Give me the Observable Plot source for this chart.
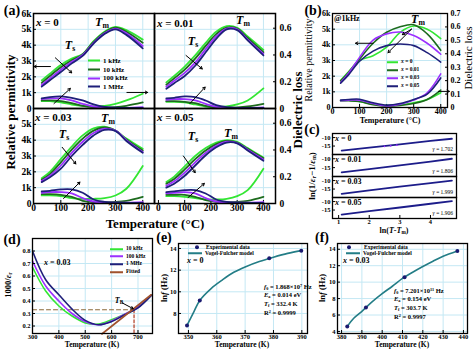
<!DOCTYPE html>
<html><head><meta charset="utf-8">
<script src="https://cdn.jsdelivr.net/npm/d3@7"></script>
<script src="https://cdn.jsdelivr.net/npm/@observablehq/plot@0.6"></script>
<style>
html,body{margin:0;padding:0;background:#fff;}
#root{position:relative;width:474px;height:349px;overflow:hidden;font-family:"Liberation Serif",serif;font-weight:bold;color:#000;}
.t{position:absolute;white-space:nowrap;line-height:1;}
.c{transform:translate(-50%,-50%);}
.l{transform:translate(0,-50%);}
.rot{transform:translate(-50%,-50%) rotate(-90deg);}
sub{font-size:65%;vertical-align:-0.25em;}
sup{font-size:65%;vertical-align:0.45em;}
.sw{display:inline-block;vertical-align:middle;margin-right:3px;}
</style></head><body><div id="root"></div>
<script>
// ---------- DATA ----------
const freqNames = ["1 kHz", "10 kHz", "100 kHz", "1 MHz"];
const freqColors = ["#33e633", "#1d6b1d", "#9b30ff", "#1f1f7a"];
const compNames = ["x = 0", "x = 0.01", "x = 0.03", "x = 0.05"];
const compColors = ["#33e633", "#1d6b1d", "#9b30ff", "#1f1f7a"];

// panel (a): temperature samples (°C), permittivity (k), dielectric loss
const tempA = [30, 60, 100, 140, 180, 220, 260, 300, 340, 400];
const permA_x0 = [
  [1.77, 2.2, 2.75, 3.15, 3.45, 4.25, 4.85, 5.15, 4.95, 4.35],
  [1.62, 2.05, 2.6, 3.05, 3.42, 4.2, 4.8, 5.1, 4.85, 4.15],
  [1.48, 1.9, 2.45, 2.95, 3.38, 4.15, 4.75, 5.05, 4.75, 3.95],
  [1.38, 1.78, 2.3, 2.85, 3.32, 4.1, 4.7, 5.0, 4.65, 3.8]];
const lossA_x0 = [
  [0.055, 0.055, 0.045, 0.03, 0.02, 0.015, 0.02, 0.035, 0.06, 0.11],
  [0.06, 0.06, 0.055, 0.04, 0.02, 0.01, 0.008, 0.01, 0.02, 0.045],
  [0.07, 0.075, 0.075, 0.06, 0.035, 0.015, 0.008, 0.005, 0.005, 0.01],
  [0.075, 0.085, 0.09, 0.08, 0.06, 0.03, 0.012, 0.006, 0.005, 0.005]];
const permA_x001 = [
  [1.65, 2.05, 2.65, 3.35, 4.15, 4.85, 5.2, 5.1, 4.55, 3.7],
  [1.5, 1.9, 2.45, 3.15, 3.95, 4.7, 5.1, 5.05, 4.45, 3.55],
  [1.38, 1.75, 2.25, 2.9, 3.75, 4.55, 5.05, 5.0, 4.35, 3.45],
  [1.25, 1.6, 2.05, 2.7, 3.55, 4.4, 5.0, 4.95, 4.3, 3.35]];
const lossA_x001 = [
  [0.05, 0.05, 0.045, 0.03, 0.015, 0.01, 0.015, 0.03, 0.06, 0.15],
  [0.055, 0.055, 0.05, 0.04, 0.02, 0.008, 0.005, 0.008, 0.015, 0.035],
  [0.065, 0.07, 0.07, 0.06, 0.035, 0.012, 0.005, 0.004, 0.004, 0.008],
  [0.075, 0.08, 0.09, 0.085, 0.06, 0.025, 0.01, 0.005, 0.004, 0.004]];
const permA_x003 = [
  [1.6, 2.0, 2.8, 3.6, 4.3, 4.75, 4.85, 4.6, 4.1, 3.45],
  [1.5, 1.85, 2.6, 3.4, 4.1, 4.6, 4.8, 4.6, 4.05, 3.35],
  [1.42, 1.75, 2.4, 3.2, 3.9, 4.45, 4.72, 4.6, 4.0, 3.25],
  [1.35, 1.65, 2.2, 3.0, 3.7, 4.3, 4.65, 4.58, 3.95, 3.2]];
const lossA_x003 = [
  [0.06, 0.06, 0.055, 0.04, 0.035, 0.035, 0.04, 0.06, 0.11, 0.28],
  [0.07, 0.07, 0.065, 0.05, 0.02, 0.01, 0.01, 0.012, 0.02, 0.05],
  [0.08, 0.085, 0.085, 0.075, 0.04, 0.015, 0.008, 0.006, 0.006, 0.01],
  [0.09, 0.095, 0.105, 0.105, 0.08, 0.03, 0.012, 0.006, 0.005, 0.005]];
const permA_x005 = [
  [1.35, 1.7, 2.35, 3.0, 3.5, 3.85, 4.0, 3.9, 3.5, 2.9],
  [1.25, 1.55, 2.15, 2.8, 3.35, 3.75, 3.95, 3.85, 3.45, 2.85],
  [1.12, 1.4, 1.95, 2.6, 3.2, 3.65, 3.9, 3.82, 3.4, 2.78],
  [1.0, 1.25, 1.75, 2.4, 3.05, 3.55, 3.85, 3.8, 3.35, 2.7]];
const lossA_x005 = [
  [0.055, 0.055, 0.05, 0.04, 0.03, 0.03, 0.035, 0.055, 0.1, 0.26],
  [0.065, 0.065, 0.065, 0.05, 0.025, 0.012, 0.01, 0.012, 0.02, 0.05],
  [0.075, 0.08, 0.085, 0.075, 0.04, 0.015, 0.008, 0.006, 0.006, 0.01],
  [0.085, 0.09, 0.1, 0.1, 0.075, 0.03, 0.012, 0.006, 0.005, 0.005]];

// panel (b): @1kHz
const tempB = [30, 60, 100, 150, 200, 250, 300, 350, 400];
const permB = [
  [1.72, 2.3, 3.0, 3.3, 3.85, 4.8, 5.2, 5.0, 4.4],
  [1.7, 2.25, 3.1, 4.1, 4.8, 5.15, 5.28, 4.7, 3.65],
  [1.6, 2.2, 3.2, 4.3, 4.7, 4.82, 4.6, 4.1, 3.4],
  [1.55, 2.1, 2.95, 3.6, 3.95, 4.05, 3.95, 3.5, 2.9]];
const lossB = [
  [0.05, 0.055, 0.045, 0.025, 0.015, 0.02, 0.035, 0.06, 0.11],
  [0.05, 0.05, 0.045, 0.02, 0.01, 0.015, 0.03, 0.06, 0.13],
  [0.05, 0.055, 0.055, 0.03, 0.012, 0.025, 0.055, 0.11, 0.25],
  [0.055, 0.06, 0.062, 0.035, 0.018, 0.03, 0.06, 0.1, 0.22]];

// panel (c): ln(T-Tm) vs ln(1/er - 1/em)
const lnC = [1.1, 2.0, 3.0, 4.0, 4.7];
const yC = [
  [-17.7, -15.9, -14.0, -12.0, -10.7],
  [-17.7, -15.8, -13.7, -11.6, -10.0],
  [-17.8, -15.8, -13.6, -11.5, -10.0],
  [-17.7, -15.7, -13.5, -11.3, -9.8]];
const gammaC = ["1.702", "1.806", "1.999", "1.906"];
const lnCpurple = [2.5, 2.7, 2.9];
const yCpurple = [-15.2, -14.9, -14.5];

// panel (d): 1000/er vs T (K), x = 0.03
const freqNamesD = ["10 kHz", "100 kHz", "1 MHz", "Fitted"];
const freqColorsD = ["#33e633", "#9b30ff", "#1f1f7a", "#a0522d"];
const tempD = [300, 350, 400, 450, 500, 550, 600, 650, 700, 750];
const invD = [
  [0.67, 0.48, 0.36, 0.28, 0.225, 0.215, 0.25, 0.295, 0.35, 0.445],
  [0.72, 0.52, 0.40, 0.30, 0.235, 0.21, 0.24, 0.295, 0.35, 0.445],
  [0.80, 0.57, 0.45, 0.335, 0.245, 0.21, 0.235, 0.29, 0.345, 0.445]];
const fitTempD = [563, 750];
const fitInvD = [0.136, 0.45];
const tbTemp = 685, tbLevel = 0.33;

// panel (e): x = 0
const expTE = [349.5, 354, 378.5, 389.8];
const expFE = [6.9, 9.2, 13.1, 13.8];
const vfTE = [349.5, 352, 354, 358, 362, 366, 370, 375, 380, 385, 389.8];
const vfFE = [6.9, 8.2, 9.2, 10.3, 11.1, 11.8, 12.3, 12.8, 13.2, 13.55, 13.8];
// panel (f): x = 0.03
const expTF = [382.8, 392, 411, 437];
const expFF = [4.6, 6.9, 10.6, 13.8];
const vfTF = [382.8, 386, 390, 395, 400, 405, 410, 415, 420, 425, 430, 437];
const vfFF = [4.6, 5.6, 6.45, 7.6, 8.6, 9.5, 10.45, 11.2, 11.9, 12.55, 13.15, 13.8];

// ---------- HELPERS ----------
const root = document.getElementById("root");
const M = 30;
const GRID = "#c4e8f4";
function rows(xs, series, names) {
  return series.flatMap((vals, i) => vals.map((v, j) => ({T: xs[j], v, s: names[i]})));
}
function fp([x0, x1, y0, y1], opts, fs) {
  const p = Plot.plot({
    width: x1 - x0 + 2 * M, height: y1 - y0 + 2 * M,
    marginLeft: M, marginRight: M, marginTop: M, marginBottom: M,
    style: {background: "transparent", fontFamily: "Liberation Serif", fontWeight: "bold", fontSize: fs + "px", overflow: "visible", maxWidth: "none"},
    ...opts
  });
  p.style.position = "absolute";
  p.style.left = (x0 - M) + "px";
  p.style.top = (y0 - M) + "px";
  root.appendChild(p);
}
function txt(html, x, y, size, cls = "c", extra = "") {
  const d = document.createElement("div");
  d.className = "t " + cls;
  d.innerHTML = html;
  d.style.left = x + "px"; d.style.top = y + "px"; d.style.fontSize = size + "px";
  if (extra) d.style.cssText += extra;
  root.appendChild(d);
}
const axY = (ticks, fmt, anchor = "left", pad = 3) => [
  Plot.axisY(ticks, {anchor, tickSize: 0, tickPadding: pad, tickFormat: fmt, label: null}),
  Plot.axisY(ticks, {anchor, tickSize: -3, tickPadding: 0, tickFormat: () => "", label: null})
];
const axX = (ticks, fmt, pad = 2) => [
  Plot.axisX(ticks, {anchor: "bottom", tickSize: 0, tickPadding: pad, tickFormat: fmt, label: null}),
  Plot.axisX(ticks, {anchor: "bottom", tickSize: -3, tickPadding: 0, tickFormat: () => "", label: null})
];
const kFmt = d => d === 0 ? "0" : d + "k";
const lossFmt = d => d === 0 ? "0" : String(d);
const arrow = (list, extra = {}) => Plot.arrow(list, {x1: "a", y1: "b", x2: "c", y2: "d", stroke: "black", strokeWidth: 1, headLength: 4, ...extra});

// ---------- PANEL (a) ----------
const subA = [
  {col: 0, row: 0, perm: permA_x0, loss: lossA_x0,
   pArrow: [{a: 80, b: 3.2, c: 140, d: 2.25}], lArrow: [{a: 75, b: 0.037, c: 135, d: 0.15}]},
  {col: 1, row: 0, perm: permA_x001, loss: lossA_x001,
   pArrow: [{a: 105, b: 3.35, c: 167, d: 2.5}], lArrow: [{a: 120, b: 0.037, c: 178, d: 0.16}]},
  {col: 0, row: 1, perm: permA_x003, loss: lossA_x003,
   pArrow: [{a: 105, b: 3.55, c: 155, d: 2.5}], lArrow: [{a: 110, b: 0.037, c: 170, d: 0.16}]},
  {col: 1, row: 1, perm: permA_x005, loss: lossA_x005,
   pArrow: [{a: 95, b: 3.0, c: 140, d: 1.95}], lArrow: [{a: 113, b: 0.045, c: 175, d: 0.15}]}
];
subA.forEach(s => {
  const fr = [s.col ? 154 : 33, s.col ? 275 : 154, s.row ? 108 : 13, s.row ? 203 : 108];
  const color = {domain: freqNames, range: freqColors};
  const xs = {domain: s.col ? [-15, 446] : [0, 443], axis: null};
  const pm = [
    Plot.gridX([100, 200, 300, 400], {stroke: GRID, strokeOpacity: 1}),
    Plot.gridY([1, 2, 3, 4, 5], {stroke: GRID, strokeOpacity: 1}),
    Plot.line(rows(tempA, s.perm, freqNames), {x: "T", y: "v", stroke: "s", z: "s", strokeWidth: 1.8, curve: "catmull-rom"}),
    arrow(s.pArrow)
  ];
  if (s.col === 0) pm.push(axY(s.row ? [0, 1, 2, 3, 4, 5] : [0, 1, 2, 3, 4, 5, 6], kFmt, "left", 2));
  if (s.row === 1) pm.push(axX([0, 100, 200, 300, 400], d => d, 1));
  if (s.col === 0 && s.row === 0) {
    pm.push(arrow([{a: 62, b: 2.65, c: 2, d: 2.65}]));
  }
  fp(fr, {x: xs, y: {domain: [0, 6], axis: null}, color, marks: pm}, 9.5);
  const lm = [
    Plot.line(rows(tempA, s.loss, freqNames), {x: "T", y: "v", stroke: "s", z: "s", strokeWidth: 1.8, curve: "catmull-rom"}),
    arrow(s.lArrow),
    Plot.frame({stroke: "black", strokeWidth: 1.5})
  ];
  if (s.col === 1) lm.push(axY([0, 0.2, 0.4, 0.6], lossFmt, "right", 4));
  if (s.col === 0 && s.row === 0) lm.push(arrow([{a: 342, b: 0.12, c: 418, d: 0.12}]));
  fp(fr, {x: xs, y: {domain: [0, 0.71], axis: null}, color, marks: lm}, 9.5);
});
txt("(a)", 12, 11, 14);
txt("Relative permittivity", 10, 112, 13, "rot");
txt("Dielectric loss", 297, 110, 13, "rot");
txt("Temperature (°C)", 155, 223, 13);
txt("<i>x</i> = 0", 36, 22, 11, "l");
txt("<i>x</i> = 0.01", 157, 23, 11, "l");
txt("<i>x</i> = 0.03", 35, 117, 11, "l");
txt("<i>x</i> = 0.05", 157, 117, 11, "l");
txt("<i>T</i><sub>m</sub>", 102, 23, 12);
txt("<i>T</i><sub>s</sub>", 70, 46, 12);
txt("<i>T</i><sub>m</sub>", 243, 21, 12);
txt("<i>T</i><sub>s</sub>", 193, 42, 12);
txt("<i>T</i><sub>m</sub>", 108, 119, 12);
txt("<i>T</i><sub>s</sub>", 64, 135, 12);
txt("<i>T</i><sub>m</sub>", 231, 134, 12);
txt("<i>T</i><sub>s</sub>", 193, 137, 12);
freqNames.forEach((n, i) => {
  txt(`<span class="sw" style="width:12px;height:2px;background:${freqColors[i]}"></span>${n}`, 88, 61 + i * 8.6, 7, "l");
});

// ---------- PANEL (b) ----------
{
  const fr = [332, 447, 13, 107];
  const color = {domain: compNames, range: compColors};
  const xs = {domain: [0, 425], axis: null};
  fp(fr, {x: xs, y: {domain: [0, 6], axis: null}, color, marks: [
    Plot.gridX([100, 200, 300, 400], {stroke: GRID, strokeOpacity: 1}),
    Plot.gridY([1, 2, 3, 4, 5], {stroke: GRID, strokeOpacity: 1}),
    Plot.line(rows(tempB, permB, compNames), {x: "T", y: "v", stroke: "s", z: "s", strokeWidth: 1.6, curve: "catmull-rom"}),
    arrow([{a: 150, b: 4.1, c: 85, d: 4.1}]),
    arrow([{a: 292, b: 5.0, c: 205, d: 3.5}, {a: 292, b: 5.0, c: 258, d: 4.65}]),
    axY([0, 1, 2, 3, 4, 5, 6], kFmt, "left", 2),
    axX([0, 100, 200, 300, 400], d => d, 1)
  ]}, 8);
  fp(fr, {x: xs, y: {domain: [0, 0.7], axis: null}, color, marks: [
    Plot.line(rows(tempB, lossB, compNames), {x: "T", y: "v", stroke: "s", z: "s", strokeWidth: 1.6, curve: "catmull-rom"}),
    arrow([{a: 392, b: 0.12, c: 432, d: 0.12}]),
    axY([0, 0.1, 0.2, 0.3, 0.4, 0.5, 0.6, 0.7], lossFmt, "right", 3),
    Plot.frame({stroke: "black", strokeWidth: 1.3})
  ]}, 8);
  txt("(b)", 313, 11, 14);
  txt("@1kHz", 334, 19, 8, "l");
  txt("<i>T</i><sub>m</sub>", 418, 20, 12);
  txt("Relative permittivity", 309, 60, 10, "rot", "font-weight:normal;");
  txt("Dielectric loss", 468, 58, 11, "rot", "font-weight:normal;");
  txt("Temperature (°C)", 390, 121, 8);
  compNames.forEach((n, i) => {
    txt(`<span class="sw" style="width:11px;height:2px;background:${compColors[i]}"></span><i>x</i>${n.slice(1)}`, 387, 62 + i * 8, 5.5, "l");
  });
}

// ---------- PANEL (c) ----------
{
  const frames = [[133, 154], [154, 176], [176, 197], [197, 218]];
  yC.forEach((vals, i) => {
    const [y0, y1] = frames[i];
    const marks = [
      Plot.line(lnC.map((x, j) => ({x, y: vals[j]})), {x: "x", y: "y", stroke: "#1c1c8a", strokeWidth: 1.8}),
      axY([-10, -15], d => d, "left", 2),
      Plot.frame({stroke: "black", strokeWidth: 1.3})
    ];
    if (i === 0) marks.push(Plot.dot(lnCpurple.map((x, j) => ({x, y: yCpurple[j]})), {x: "x", y: "y", fill: "#9b30ff", r: 0.9}));
    if (i === 3) marks.push(axX([1, 2, 3, 4], d => d, 1));
    fp([332, 456, y0, y1], {x: {domain: [0.8, 4.85], axis: null}, y: {domain: [-20, -7.6], axis: null}, marks}, 6.5);
    txt(`<i>x</i>${compNames[i].slice(1)}`, 335, y0 + 6, 8, "l");
    txt(`<i>γ</i> = ${gammaC[i]}`, 453, y1 - 4, 5.5, "l", "transform:translate(-100%,-50%);font-weight:normal;");
  });
  txt("(c)", 312, 130, 14);
  txt("ln(1/<i>ε</i><sub>r</sub>−1/<i>ε</i><sub>m</sub>)", 313, 176, 9, "rot");
  txt("ln(<i>T</i>-<i>T</i><sub>m</sub>)", 394, 231, 8);
}

// ---------- PANEL (d) ----------
{
  const fr = [32, 152, 238, 333];
  const data = rows(tempD, invD, freqNamesD.slice(0, 3));
  fp(fr, {x: {domain: [300, 755], axis: null}, y: {domain: [0.14, 0.9], axis: null},
    color: {domain: freqNamesD, range: freqColorsD}, marks: [
    Plot.gridX([400, 500, 600, 700], {stroke: GRID, strokeOpacity: 1}),
    Plot.gridY([0.2, 0.3, 0.4, 0.5, 0.6, 0.7, 0.8], {stroke: GRID, strokeOpacity: 1}),
    Plot.line([{T: 300, v: tbLevel}, {T: tbTemp, v: tbLevel}], {x: "T", y: "v", stroke: "#8b6a3a", strokeWidth: 1.2, strokeDasharray: "4,3"}),
    Plot.line([{T: tbTemp, v: tbLevel}, {T: tbTemp, v: 0.14}], {x: "T", y: "v", stroke: "#b03a20", strokeWidth: 1.2, strokeDasharray: "3,2"}),
    Plot.line(data, {x: "T", y: "v", stroke: "s", z: "s", strokeWidth: 1.6, curve: "catmull-rom"}),
    Plot.line(fitTempD.map((T, j) => ({T, v: fitInvD[j], s: "Fitted"})), {x: "T", y: "v", stroke: "s", strokeWidth: 1.6}),
    arrow([{a: 640, b: 0.385, c: tbTemp - 3, d: tbLevel + 0.008}]),
    axY([0.2, 0.3, 0.4, 0.5, 0.6, 0.7, 0.8], d => d.toFixed(1), "left", 2),
    axX([300, 400, 500, 600, 700], d => d, 1),
    Plot.frame({stroke: "black", strokeWidth: 1.3})
  ]}, 6.5);
  txt("(d)", 12, 240, 14);
  txt("<i>x</i> = 0.03", 44, 263, 8, "l");
  txt("<i>T</i><sub>B</sub>", 119, 301, 8);
  txt("1000/<i>ε</i><sub>r</sub>", 9, 285, 8.5, "rot");
  txt("Temperature (K)", 92, 345, 7.5);
  freqNamesD.forEach((n, i) => {
    txt(`<span class="sw" style="width:13px;height:2px;background:${freqColorsD[i]}"></span>${n}`, 110, 249 + i * 7.7, 5.5, "l");
  });
}

// ---------- PANELS (e) and (f) ----------
function vfPanel(fr, xd, yd, xt, yt, expT, expF, vfT, vfF) {
  fp(fr, {x: {domain: xd, axis: null}, y: {domain: yd, axis: null}, marks: [
    Plot.gridX(xt, {stroke: GRID, strokeOpacity: 1}),
    Plot.gridY(yt, {stroke: GRID, strokeOpacity: 1}),
    Plot.line(vfT.map((T, j) => ({T, f: vfF[j]})), {x: "T", y: "f", stroke: "#237d86", strokeWidth: 1.6, curve: "catmull-rom"}),
    Plot.dot(expT.map((T, j) => ({T, f: expF[j]})), {x: "T", y: "f", fill: "#1a1a70", r: 2}),
    axY(yt, d => d, "left", 2),
    axX(xt, d => d, 1),
    Plot.frame({stroke: "black", strokeWidth: 1.3})
  ]}, 6.5);
}
vfPanel([178, 307, 243, 333], [346.5, 392], [6.15, 14.46], [350, 360, 370, 380, 390], [8, 10, 12, 14], expTE, expFE, vfTE, vfFE);
vfPanel([337, 467, 243, 333], [378, 442], [3.75, 14.7], [380, 390, 400, 410, 420, 430, 440], [4, 6, 8, 10, 12, 14], expTF, expFF, vfTF, vfFF);
txt("(e)", 164, 238, 14);
txt("(f)", 322, 238, 14);
txt("ln<i>f</i> (Hz)", 164, 288, 8.5, "rot");
txt("ln<i>f</i> (Hz)", 322, 288, 8.5, "rot");
txt("Temperature (K)", 242, 345, 7.5);
txt("Temperature (K)", 402, 345, 7.5);
txt("<i>x</i> = 0", 187, 261, 8, "l");
txt("<i>x</i> = 0.03", 343, 261, 8, "l");
[[188, 197], [346, 349]].forEach(([lx, dx]) => {
  txt(`<span class="sw" style="width:4px;height:4px;border-radius:50%;background:#1a1a70;margin-left:${dx - lx - 2}px;margin-right:${16 - (dx - lx)}px"></span>Experimental data`, lx, 247.5, 5.5, "l");
  txt(`<span class="sw" style="width:14px;height:1.6px;background:#237d86"></span>Vogel-Fulcher model`, lx, 253.5, 5.5, "l");
});
const vfTextE = ["<i>f</i><sub>0</sub> = 1.868×10<sup>7</sup> Hz", "<i>E</i><sub>a</sub> = 0.014 eV", "<i>T</i><sub>f</sub> = 332.4 K", "R<sup>2</sup> = 0.9999"];
const vfTextF = ["<i>f</i><sub>0</sub> = 7.201×10<sup>11</sup> Hz", "<i>E</i><sub>a</sub> = 0.154 eV", "<i>T</i><sub>f</sub> = 303.7 K", "R<sup>2</sup> = 0.9997"];
vfTextE.forEach((s, i) => txt(s, 264, 288 + i * 8.4, 6.5, "l"));
vfTextF.forEach((s, i) => txt(s, 394, 292 + i * 8.4, 6.5, "l"));
</script></body></html>
